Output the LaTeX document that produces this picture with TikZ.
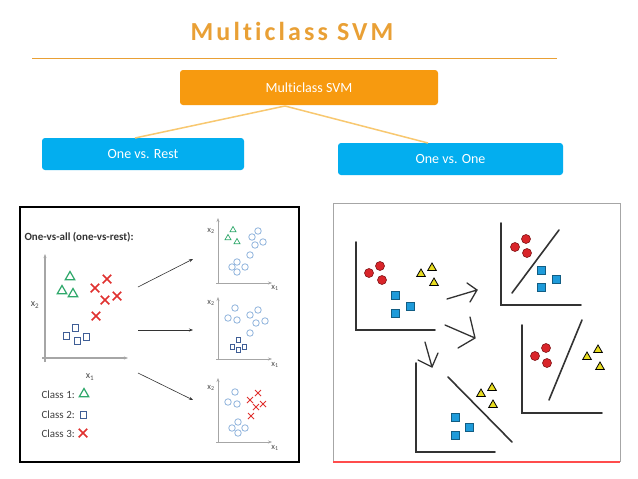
\documentclass[tikz,border=0pt]{standalone}
\usepackage{fontspec}
\setmainfont{Carlito}[Ligatures=NoCommon]
\newfontfamily\ltitle[LetterSpace=12,Ligatures=NoCommon]{Carlito}
\usetikzlibrary{shapes.geometric,shapes.misc,arrows.meta}
\definecolor{ttl}{HTML}{E9A035}
\definecolor{org}{HTML}{F79A0F}
\definecolor{sky}{HTML}{03AEEF}
\definecolor{conn}{HTML}{F8C870}
\definecolor{gtri}{HTML}{2FA86B}
\definecolor{bsq}{HTML}{3F5E96}
\definecolor{rx}{HTML}{E0312F}
\definecolor{lc}{HTML}{8FB3DC}
\definecolor{hsq}{HTML}{1E9BDA}
\definecolor{htri}{HTML}{E8DC20}
\definecolor{hred}{HTML}{D9252A}
\tikzset{
 box/.style={rounded corners=3pt,minimum height=32pt,text=white,font=\fontsize{14}{16}\selectfont,inner sep=0pt},
 tri/.style={draw=gtri,line width=1.2pt,regular polygon,regular polygon sides=3,minimum size=#1,inner sep=0pt},
 sq/.style={draw=bsq,line width=1pt,rectangle,minimum width=#1,minimum height=1.25*#1,inner sep=0pt},
 crs/.style={cross out,draw=rx,line width=1.5pt,minimum size=#1,inner sep=0pt},
 cir/.style={circle,draw=lc,line width=0.8pt,minimum size=6.5pt,inner sep=0pt},
 ax/.style={draw=gray!70,line width=0.7pt,-{Stealth[length=4pt]}},
 lab/.style={font=\fontsize{8.5}{9}\selectfont,text=black!70},
 leg/.style={anchor=west,font=\fontsize{11}{12}\selectfont,text=black!75},
 hax/.style={draw=black!80,line width=1.6pt,line cap=round},
 hred/.style={circle,fill=hred,draw=hred!60!black,line width=0.6pt,minimum size=9pt,inner sep=0pt},
 hsq/.style={rectangle,fill=hsq,draw=hsq!60!black,line width=0.5pt,minimum size=8pt,inner sep=0pt},
 htri/.style={regular polygon,regular polygon sides=3,fill=htri,draw=black,line width=0.8pt,minimum size=10pt,inner sep=0pt},
}
\begin{document}
\begin{tikzpicture}[x=1pt,y=-1pt]
\useasboundingbox (0,0) rectangle (638,479);
\fill[white] (0,0) rectangle (638,479);
% title
\node[text=ttl,font=\ltitle\bfseries\fontsize{26}{30}\selectfont] (title) at (292,31) {Multiclass SVM};
\draw[ttl,line width=0.8pt] (32,58) -- (557,58);
% boxes
\node[box,fill=org,minimum width=258pt,minimum height=35pt] (root) at (309,87.5) {Multiclass SVM};
\node[box,fill=sky,minimum width=202pt] (ovr) at (143,154) {One vs. Rest};
\node[box,fill=sky,minimum width=225pt] (ovo) at (450.5,159) {One vs. One};
\coordinate (rb) at (285,106);
\coordinate (lt) at (135,138);
\coordinate (rt) at (428,143);
\draw[conn,line width=1.5pt] (rb) -- (lt) (rb) -- (rt);
% left panel
\draw[black,line width=1.5pt] (20,207) rectangle (299,462);
\node[anchor=west,font=\bfseries\fontsize{11}{12}\selectfont,text=black!80] (ovat) at (21,237) {One-vs-all (one-vs-rest):};
\draw[ax,line width=1.2pt] (45,362) -- (45,254);
\draw[ax,line width=1.2pt] (42,358) -- (128,358);
\node[lab,font=\fontsize{10}{11}\selectfont] (lx2) at (35,305) {x\textsubscript{2}};
\node[lab,font=\fontsize{10}{11}\selectfont] (lx1) at (90,377) {x\textsubscript{1}};
\foreach \p [count=\i] in {(70,277),(62,291),(73,294)} \node[tri=11pt] (ta\i) at \p {};
\foreach \p [count=\i] in {(107,279),(95,288),(105,300),(117,296),(96,316)} \node[crs=7pt] (xa\i) at \p {};
\foreach \p [count=\i] in {(75,328),(66,336),(77,341),(86,337)} \node[sq=6pt] (sa\i) at \p {};
\node[leg] (c1) at (38,395) {Class 1:};
\node[leg] (c2) at (38,415) {Class 2:};
\node[leg] (c3) at (38,434) {Class 3:};
\node[tri=11pt] (lt1) at (84,394) {};
\node[sq=6pt] (ls2) at (83,415) {};
\node[crs=7pt] (lx3) at (83,433) {};
% arrows
\coordinate (a0) at (138,287); \coordinate (a1) at (193,259);
\coordinate (b0) at (138,330); \coordinate (b1) at (193,330);
\coordinate (c0) at (138,373); \coordinate (c1e) at (193,400);
\foreach \s/\e in {a0/a1,b0/b1,c0/c1e} \draw[black!80,line width=0.6pt,-{Stealth[length=4pt]}] (\s) -- (\e);
% small plots
\foreach \ya/\yb in {218/283,297/359,378/442}{
 \draw[ax] (218,\yb+1) -- (218,\ya);
 \draw[ax] (216,\yb) -- (272,\yb);
}
\node[lab] (p1y) at (211,231) {x\textsubscript{2}}; \node[lab] (p1x) at (275,288) {x\textsubscript{1}};
\node[lab] (p2y) at (211,303) {x\textsubscript{2}}; \node[lab] (p2x) at (275,365) {x\textsubscript{1}};
\node[lab] (p3y) at (211,388) {x\textsubscript{2}}; \node[lab] (p3x) at (275,448) {x\textsubscript{1}};
\foreach \p [count=\i] in {(233,230),(228,238),(237,242)} \node[tri=7pt,line width=0.7pt] (tb\i) at \p {};
\foreach \p [count=\i] in {(258,231),(252,237),(263,242),(255,245),(250,255),(237,262),(232,267),(237,272),(245,267)} \node[cir] (ca\i) at \p {};
\foreach \p [count=\i] in {(235,308),(228,318),(237,320),(250,315),(258,310),(256,323),(265,321),(250,333)} \node[cir] (cb\i) at \p {};
\foreach \p [count=\i] in {(238,340),(232,347),(238,350),(244,347)} \node[sq=4pt,line width=0.7pt] (sb\i) at \p {};
\foreach \p [count=\i] in {(235,392),(228,402),(237,404),(238,422),(232,428),(238,433),(245,428)} \node[cir] (cc\i) at \p {};
\foreach \p [count=\i] in {(258,393),(250,400),(256,407),(263,404),(251,416)} \node[crs=5pt,line width=1pt] (xb\i) at \p {};
% right panel
\draw[gray!70,line width=0.8pt] (333,462) -- (333,203) -- (620,203) -- (620,462);
\draw[red!70,line width=1.2pt] (333,462) -- (620,462);
% main hand plot
\draw[hax] (356,242) -- (356,330) -- (435,330);
\foreach \p [count=\i] in {(369,273),(380,266),(382,280)} \node[hred] (ra\i) at \p {};
\foreach \p [count=\i] in {(421,274),(432,268),(434,283)} \node[htri] (ya\i) at \p {};
\foreach \p [count=\i] in {(395,295),(410,306),(395,313)} \node[hsq] (qa\i) at \p {};
% hand arrows
\draw[hax,line width=1.3pt] (447,299) -- (477,290) (467,283) -- (477,290) -- (470,302);
\draw[hax,line width=1.3pt] (445,325) -- (475,338) (470,317) -- (475,338) -- (458,348);
\draw[hax,line width=1.3pt] (425,342) -- (432,367) (418,360) -- (432,367) -- (438,353);
% top right
\draw[hax] (501,223) -- (501,305) -- (581,305);
\draw[hax] (512,293) -- (559,230);
\foreach \p [count=\i] in {(515,247),(526,239),(527,253)} \node[hred] (rb\i) at \p {};
\foreach \p [count=\i] in {(541,270),(556,279),(541,287)} \node[hsq] (qb\i) at \p {};
% mid right
\draw[hax] (522,325) -- (522,413) -- (602,413);
\draw[hax] (549,400) -- (582,320);
\foreach \p [count=\i] in {(535,356),(546,348),(547,363)} \node[hred] (rc\i) at \p {};
\foreach \p [count=\i] in {(587,357),(598,350),(600,367)} \node[htri] (yc\i) at \p {};
% bottom
\draw[hax] (416,363) -- (416,452) -- (495,452);
\draw[hax] (448,377) -- (512,442);
\foreach \p [count=\i] in {(481,394),(492,388),(493,405)} \node[htri] (yd\i) at \p {};
\foreach \p [count=\i] in {(455,417),(469,427),(455,435)} \node[hsq] (qd\i) at \p {};
\end{tikzpicture}
\end{document}
